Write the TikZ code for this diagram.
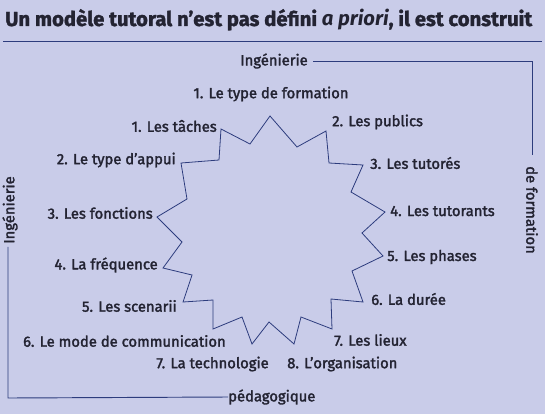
\documentclass[tikz,border=0pt]{standalone}
\usepackage{fontspec}
\setmainfont{Fira Sans}
\newfontfamily\etiqfont{Fira Sans}[FakeBold=2]
\newfontfamily\titrefont{Fira Sans}[BoldFeatures={FakeBold=1.5}]
\definecolor{fond}{RGB}{201,204,233}
\definecolor{encre}{RGB}{35,35,50}
\definecolor{trait}{RGB}{45,60,125}
\tikzset{
  etiq/.style={text=encre,inner sep=0pt,font=\etiqfont\fontsize{11.1}{13}\selectfont},
  gauche/.style={etiq,anchor=east},
  droite/.style={etiq,anchor=west},
  cadre/.style={draw=trait,line width=0.7pt},
  etoile/.style={draw=trait,line width=0.6pt,line join=miter}
}
\begin{document}
\begin{tikzpicture}[x=0.75pt,y=-0.75pt]
\fill[fond] (0,0) rectangle (545,414);
\node[anchor=base west,text=encre,inner sep=0pt,font=\titrefont\fontsize{15.2}{17}\selectfont\bfseries] (titre) at (5,26) {Un modèle tutoral n’est pas défini \textit{a priori}, il est construit};
\draw[cadre] (3,41) -- (542,41);
\draw[etoile] (270,116) -- (297,147) -- (326,131) -- (329,163) -- (363,165) -- (351,192)
  -- (385,212) -- (362,233) -- (383,256) -- (352,271) -- (363,302) -- (331,299)
  -- (332,329) -- (301,317) -- (294,344) -- (269,322) -- (252,344) -- (242,317)
  -- (213,329) -- (213,300) -- (183,302) -- (192,275) -- (163,268) -- (182,242)
  -- (157,217) -- (187,199) -- (181,163) -- (219,160) -- (221,129) -- (250,144) -- cycle;
\node[etiq] (formation) at (271,94) {1. Le type de formation};
\node[gauche] (taches) at (217,126) {1. Les tâches};
\node[droite] (publics) at (332,122) {2. Les publics};
\node[gauche] (appui) at (176,160) {2. Le type d’appui};
\node[droite] (tutores) at (370,163) {3. Les tutorés};
\node[gauche] (fonctions) at (153,213) {3. Les fonctions};
\node[droite] (tutorants) at (390,211) {4. Les tutorants};
\node[gauche] (frequence) at (158,265) {4. La fréquence};
\node[droite] (phases) at (387,257) {5. Les phases};
\node[gauche] (scenarii) at (177,306) {5. Les scenarii};
\node[droite] (duree) at (371,299) {6. La durée};
\node[gauche] (mode) at (226,341) {6. Le mode de communication};
\node[droite] (lieux) at (334,340) {7. Les lieux};
\node[gauche] (techno) at (269,364) {7. La technologie};
\node[droite] (organisation) at (287,364) {8. L’organisation};
\node[gauche] (inghaut) at (308,61) {Ingénierie};
\node[etiq,rotate=-90] (deform) at (532,210) {de formation};
\node[etiq,rotate=90] (inggauche) at (10,210) {Ingénierie};
\node[droite] (pedago) at (228,397) {pédagogique};
\draw[cadre] (inghaut.east) ++(5,0) coordinate (h1) -- (532,61) -- (deform.west |- 0,155);
\draw[cadre] (inggauche.west) ++(-2,3) coordinate (g1) -- (8,398) -- (pedago.west) ++(-3,1);
\end{tikzpicture}
\end{document}
